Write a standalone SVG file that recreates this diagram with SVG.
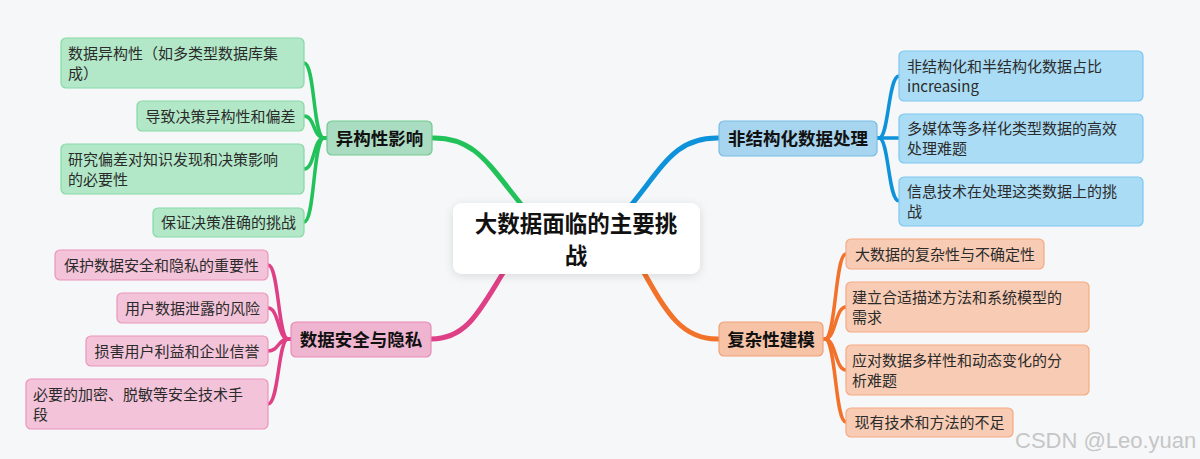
<svg xmlns="http://www.w3.org/2000/svg" width="1200" height="459" viewBox="0 0 1200 459">
<defs>
<filter id="sh" x="-20%" y="-30%" width="140%" height="170%">
<feDropShadow dx="0" dy="2" stdDeviation="5" flood-color="#000" flood-opacity="0.12"/>
</filter>
<style>
text{font-family:"Noto Sans CJK SC","Noto Sans",sans-serif}
.leaf{font-size:15px;fill:#2b2b2b}
.node{font-size:17.5px;font-weight:bold;fill:#111}
.center{font-size:22.5px;font-weight:bold;fill:#111}
.lg{fill:#b2e8c8;stroke:#86d9a6;stroke-width:1.2}
.ng{fill:#a9dcc0;stroke:#72c990;stroke-width:1.2}
.lb{fill:#aadcf5;stroke:#7ec7f0;stroke-width:1.2}
.nb{fill:#a7d4ee;stroke:#78bde6;stroke-width:1.2}
.lp{fill:#f3c3d9;stroke:#eb96bb;stroke-width:1.2}
.np{fill:#efb5d0;stroke:#e78ab4;stroke-width:1.2}
.lo{fill:#f8ccb4;stroke:#f5aa82;stroke-width:1.2}
.no{fill:#f6c3a6;stroke:#f0a077;stroke-width:1.2}
.c{fill:none;stroke-linecap:round}
.cg{stroke:#22c25a}
.cb{stroke:#0e93da}
.cp{stroke:#df3f85}
.co{stroke:#f2722a}
.main{stroke-width:5}
.sub{stroke-width:3.5}
</style>
</defs>
<rect width="1200" height="459" fill="#f6f7f9"/>

<g id="connectors">
<path class="c cg main" d="M432,138 C478,137 490,168 530,215"/>
<path class="c cb main" d="M719,138 C673,137 663,168 623,215"/>
<path class="c cp main" d="M431,339 C470,339 482,305 510,262"/>
<path class="c co main" d="M719,339 C680,340 665,310 638,262"/>

<path class="c cg sub" d="M327,138 L324,138 C313,138 315,63 304,63"/>
<path class="c cg sub" d="M327,138 L324,138 C313,138 315,116 304,116"/>
<path class="c cg sub" d="M327,138 L324,138 C313,138 315,169 304,169"/>
<path class="c cg sub" d="M327,138 L324,138 C313,138 315,222 304,222"/>

<path class="c cb sub" d="M877,138 L879,138 C889,138 888,76 899,76"/>
<path class="c cb sub" d="M877,138 L899,138"/>
<path class="c cb sub" d="M877,138 L879,138 C889,138 888,201 899,201"/>

<path class="c cp sub" d="M291,339 L288,339 C278,339 279,265 268,265"/>
<path class="c cp sub" d="M291,339 L288,339 C278,339 279,308 268,308"/>
<path class="c cp sub" d="M291,339 L288,339 C278,339 279,351 268,351"/>
<path class="c cp sub" d="M291,339 L288,339 C278,339 279,404 268,404"/>

<path class="c co sub" d="M823,339 L825,339 C836,339 835,254 846,254"/>
<path class="c co sub" d="M823,339 L825,339 C836,339 835,307 846,307"/>
<path class="c co sub" d="M823,339 L825,339 C836,339 835,370 846,370"/>
<path class="c co sub" d="M823,339 L825,339 C836,339 835,422 846,422"/>
</g>

<g id="center">
<rect x="453" y="203" width="247" height="71" rx="9" fill="#ffffff" filter="url(#sh)"/>
<text class="center" x="576" y="231.5" text-anchor="middle">大数据面临的主要挑</text>
<text class="center" x="576" y="263.5" text-anchor="middle">战</text>
</g>

<g id="n-hetero">
<rect class="ng" x="327" y="121" width="105" height="34" rx="5"/>
<text class="node" x="379.5" y="144.5" text-anchor="middle">异构性影响</text>
</g>
<g id="g1">
<rect class="lg" x="61" y="38" width="243" height="50" rx="5"/>
<text class="leaf" x="68" y="58.5">数据异构性（如多类型数据库集</text>
<text class="leaf" x="68" y="78.5">成）</text>
</g>
<g id="g2">
<rect class="lg" x="137" y="101" width="167" height="30" rx="5"/>
<text class="leaf" x="220.5" y="121.5" text-anchor="middle">导致决策异构性和偏差</text>
</g>
<g id="g3">
<rect class="lg" x="61" y="144" width="243" height="50" rx="5"/>
<text class="leaf" x="68" y="164.5">研究偏差对知识发现和决策影响</text>
<text class="leaf" x="68" y="184.5">的必要性</text>
</g>
<g id="g4">
<rect class="lg" x="153" y="208" width="151" height="29" rx="5"/>
<text class="leaf" x="228.5" y="228" text-anchor="middle">保证决策准确的挑战</text>
</g>

<g id="n-unstruct">
<rect class="nb" x="719" y="121" width="158" height="35" rx="5"/>
<text class="node" x="798" y="145" text-anchor="middle">非结构化数据处理</text>
</g>
<g id="b1">
<rect class="lb" x="899" y="51" width="244" height="50" rx="5"/>
<text class="leaf" x="907" y="71.5">非结构化和半结构化数据占比</text>
<text class="leaf" x="907" y="91.5">increasing</text>
</g>
<g id="b2">
<rect class="lb" x="899" y="114" width="244" height="49" rx="5"/>
<text class="leaf" x="907" y="134">多媒体等多样化类型数据的高效</text>
<text class="leaf" x="907" y="154">处理难题</text>
</g>
<g id="b3">
<rect class="lb" x="899" y="177" width="244" height="49" rx="5"/>
<text class="leaf" x="907" y="197">信息技术在处理这类数据上的挑</text>
<text class="leaf" x="907" y="217">战</text>
</g>

<g id="n-security">
<rect class="np" x="291" y="322" width="140" height="35" rx="5"/>
<text class="node" x="361" y="346" text-anchor="middle">数据安全与隐私</text>
</g>
<g id="p1">
<rect class="lp" x="55" y="250" width="213" height="30" rx="5"/>
<text class="leaf" x="161.5" y="270.5" text-anchor="middle">保护数据安全和隐私的重要性</text>
</g>
<g id="p2">
<rect class="lp" x="117" y="293" width="151" height="30" rx="5"/>
<text class="leaf" x="192.5" y="313.5" text-anchor="middle">用户数据泄露的风险</text>
</g>
<g id="p3">
<rect class="lp" x="86" y="336" width="182" height="30" rx="5"/>
<text class="leaf" x="177" y="356.5" text-anchor="middle">损害用户利益和企业信誉</text>
</g>
<g id="p4">
<rect class="lp" x="26" y="379" width="242" height="50" rx="5"/>
<text class="leaf" x="33" y="399.5">必要的加密、脱敏等安全技术手</text>
<text class="leaf" x="33" y="419.5">段</text>
</g>

<g id="n-complex">
<rect class="no" x="719" y="322" width="104" height="34" rx="5"/>
<text class="node" x="771" y="345.5" text-anchor="middle">复杂性建模</text>
</g>
<g id="o1">
<rect class="lo" x="846" y="239" width="198" height="30" rx="5"/>
<text class="leaf" x="945" y="259.5" text-anchor="middle">大数据的复杂性与不确定性</text>
</g>
<g id="o2">
<rect class="lo" x="846" y="282" width="243" height="50" rx="5"/>
<text class="leaf" x="852" y="302.5">建立合适描述方法和系统模型的</text>
<text class="leaf" x="852" y="322.5">需求</text>
</g>
<g id="o3">
<rect class="lo" x="846" y="345" width="243" height="50" rx="5"/>
<text class="leaf" x="852" y="365.5">应对数据多样性和动态变化的分</text>
<text class="leaf" x="852" y="385.5">析难题</text>
</g>
<g id="o4">
<rect class="lo" x="846" y="408" width="167" height="29" rx="5"/>
<text class="leaf" x="929.5" y="428" text-anchor="middle">现有技术和方法的不足</text>
</g>

<text x="1015" y="448" font-family="'Liberation Sans',Arial,sans-serif" font-size="22" fill="#c6c6c6" style="font-family:'Liberation Sans',Arial,sans-serif">CSDN @Leo.yuan</text>
</svg>
